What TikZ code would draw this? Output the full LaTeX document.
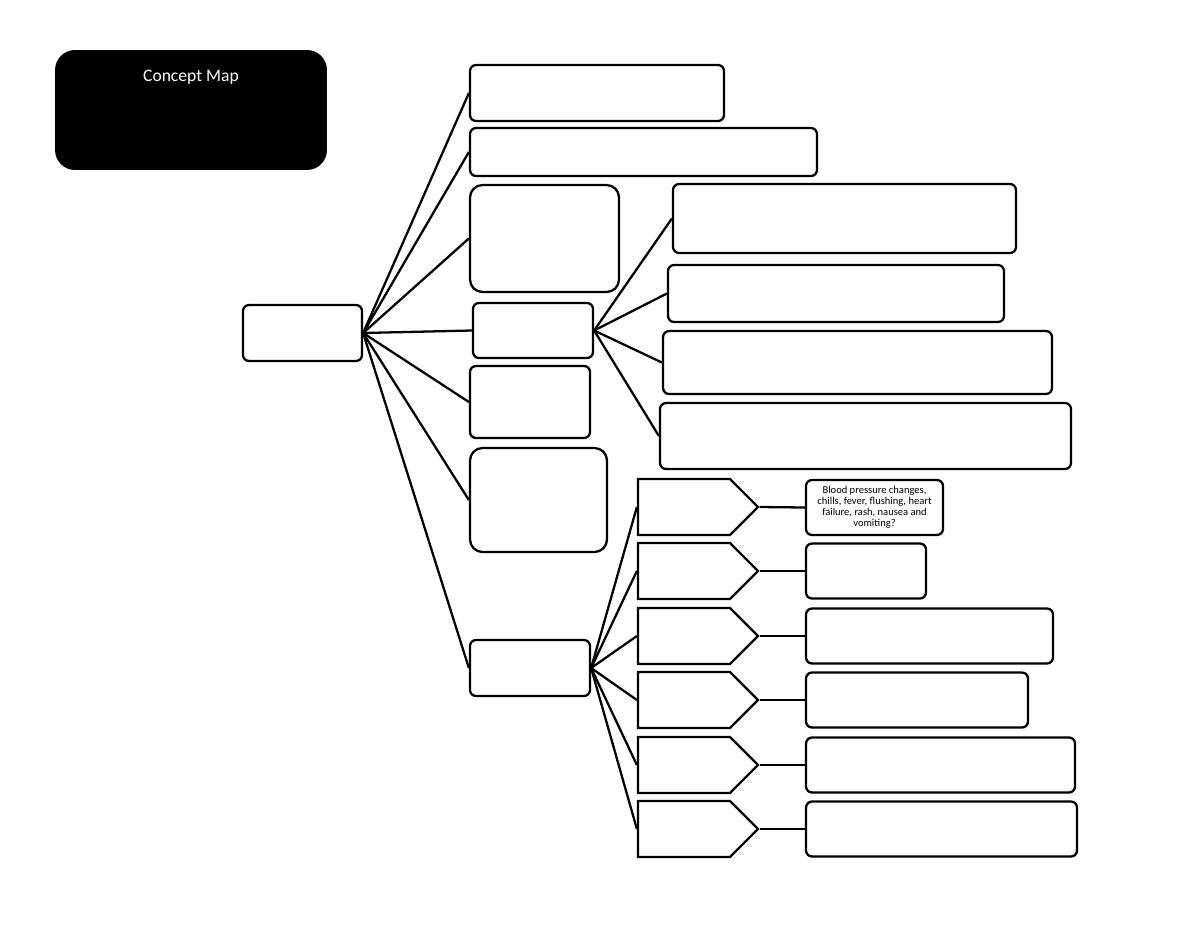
\documentclass[tikz,border=0pt]{standalone}
\usepackage{fontspec}
\setmainfont{Carlito}
\usepackage{tikz}
\usetikzlibrary{shapes,positioning}
\tikzstyle{box} = [rectangle, draw, line width=1.3pt, rounded corners=0.12cm, inner sep=0pt]
\tikzstyle{bigbox} = [box, rounded corners=0.25cm]
\tikzstyle{titlebox} = [rectangle, fill=black, rounded corners=0.4cm, minimum width=5.44cm, minimum height=2.4cm]
\tikzstyle{arrowbox} = [signal, signal to=east, signal pointer angle=90, draw, line width=1.3pt, minimum width=2.4cm, minimum height=1.12cm, inner sep=0pt]
\tikzstyle{link} = [line width=1.3pt]

\begin{document}
\begin{tikzpicture}[x=0.02cm, y=-0.02cm]
    \useasboundingbox (0,0) rectangle (1200,927);
    % Title
    \node[titlebox, label={[font=\fontsize{10}{12}\selectfont, text=white, anchor=north, yshift=-0.28cm]north:Concept Map}] (title) at (191,110) {};

    % Root and first level
    \node[box, minimum width=2.38cm, minimum height=1.12cm] (root) at (302.5,333) {};
    \node[box, minimum width=5.08cm, minimum height=1.12cm] (a) at (597,93) {};
    \node[box, minimum width=6.94cm, minimum height=0.96cm] (b) at (643.5,152) {};
    \node[bigbox, minimum width=2.98cm, minimum height=2.14cm] (c) at (544.5,238.5) {};
    \node[box, minimum width=2.4cm, minimum height=1.1cm] (d) at (533,330.5) {};
    \node[box, minimum width=2.4cm, minimum height=1.44cm] (e) at (530,402) {};
    \node[bigbox, minimum width=2.74cm, minimum height=2.08cm] (f) at (538.5,500) {};
    \node[box, minimum width=2.4cm, minimum height=1.12cm] (g) at (530,668) {};

    % Second level under d
    \node[box, minimum width=6.86cm, minimum height=1.38cm] (d1) at (844.5,218.5) {};
    \node[box, minimum width=6.72cm, minimum height=1.14cm] (d2) at (836,293.5) {};
    \node[box, minimum width=7.78cm, minimum height=1.26cm] (d3) at (857.5,362.5) {};
    \node[box, minimum width=8.22cm, minimum height=1.32cm] (d4) at (865.5,436) {};

    % Second level under g
    \node[arrowbox] (p1) at (684,507) {};
    \node[arrowbox] (p2) at (684,571) {};
    \node[arrowbox] (p3) at (684,636) {};
    \node[arrowbox] (p4) at (684,700) {};
    \node[arrowbox] (p5) at (684,765) {};
    \node[arrowbox] (p6) at (684,829) {};

    \node[box, minimum width=2.74cm, minimum height=1.1cm, align=center, font=\fontsize{6}{6.3}\selectfont] (r1) at (874.5,507.5) {Blood pressure changes,\\chills, fever, flushing, heart\\failure, rash, nausea and\\vomiting?};
    \node[box, minimum width=2.4cm, minimum height=1.1cm] (r2) at (866,571) {};
    \node[box, minimum width=4.94cm, minimum height=1.1cm] (r3) at (929.5,636) {};
    \node[box, minimum width=4.44cm, minimum height=1.1cm] (r4) at (917,700) {};
    \node[box, minimum width=5.38cm, minimum height=1.1cm] (r5) at (940.5,765) {};
    \node[box, minimum width=5.42cm, minimum height=1.1cm] (r6) at (941.5,829) {};

    % Links
    \draw[link] (root.east) -- (a.west);
    \draw[link] (root.east) -- (b.west);
    \draw[link] (root.east) -- (c.west);
    \draw[link] (root.east) -- (d.west);
    \draw[link] (root.east) -- (e.west);
    \draw[link] (root.east) -- (f.west);
    \draw[link] (root.east) -- (g.west);

    \draw[link] (d.east) -- (d1.west);
    \draw[link] (d.east) -- (d2.west);
    \draw[link] (d.east) -- (d3.west);
    \draw[link] (d.east) -- (d4.west);

    \draw[link] (g.east) -- (p1.west);
    \draw[link] (g.east) -- (p2.west);
    \draw[link] (g.east) -- (p3.west);
    \draw[link] (g.east) -- (p4.west);
    \draw[link] (g.east) -- (p5.west);
    \draw[link] (g.east) -- (p6.west);

    \draw[link] (p1.east) -- (r1.west);
    \draw[link] (p2.east) -- (r2.west);
    \draw[link] (p3.east) -- (r3.west);
    \draw[link] (p4.east) -- (r4.west);
    \draw[link] (p5.east) -- (r5.west);
    \draw[link] (p6.east) -- (r6.west);
\end{tikzpicture}
\end{document}
